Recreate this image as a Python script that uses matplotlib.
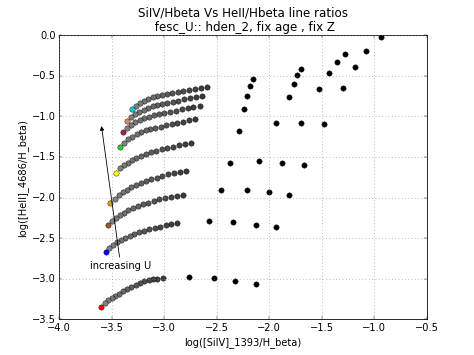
import matplotlib
matplotlib.use("Agg")
import matplotlib.pyplot as plt

plt.style.use("classic")

# Start-point colours (one per ionisation parameter U, bottom -> top)
u_colors = ["red", "blue", "sienna", "goldenrod", "yellow", "limegreen",
            "#b0203a", "#e0855f", "#10d0d0"]

# Model curves: first point coloured, rest gray
curve_x = [
    [-3.598, -3.566, -3.535, -3.502, -3.468, -3.433, -3.394, -3.356, -3.315, -3.273, -3.232, -3.191, -3.149, -3.108, -3.064, -3.016],
    [-3.559, -3.522, -3.485, -3.449, -3.410, -3.369, -3.327, -3.284, -3.238, -3.191, -3.142, -3.090, -3.038, -2.985, -2.931, -2.877],
    [-3.540, -3.501, -3.463, -3.424, -3.384, -3.341, -3.297, -3.252, -3.204, -3.154, -3.102, -3.048, -2.994, -2.938, -2.881, -2.825],
    [-3.512, -3.473, -3.434, -3.396, -3.355, -3.312, -3.268, -3.223, -3.175, -3.124, -3.073, -3.018, -2.963, -2.907, -2.851, -2.794],
    [-3.464, -3.425, -3.386, -3.348, -3.307, -3.264, -3.220, -3.175, -3.127, -3.076, -3.025, -2.970, -2.915, -2.859, -2.803, -2.746],
    [-3.418, -3.380, -3.341, -3.303, -3.263, -3.221, -3.177, -3.132, -3.084, -3.035, -2.983, -2.930, -2.876, -2.820, -2.764, -2.708],
    [-3.392, -3.353, -3.313, -3.274, -3.233, -3.189, -3.144, -3.098, -3.049, -2.998, -2.946, -2.890, -2.835, -2.778, -2.721, -2.663],
    [-3.350, -3.312, -3.274, -3.236, -3.196, -3.154, -3.110, -3.065, -3.018, -2.969, -2.918, -2.864, -2.811, -2.756, -2.700, -2.644],
    [-3.306, -3.268, -3.229, -3.191, -3.151, -3.109, -3.065, -3.020, -2.972, -2.923, -2.871, -2.818, -2.764, -2.708, -2.652, -2.596],
]
curve_y = [
    [-3.342, -3.296, -3.264, -3.234, -3.209, -3.185, -3.156, -3.131, -3.098, -3.073, -3.053, -3.032, -3.020, -3.008, -2.999, -2.992],
    [-2.665, -2.617, -2.580, -2.549, -2.521, -2.495, -2.471, -2.449, -2.426, -2.407, -2.390, -2.373, -2.357, -2.343, -2.331, -2.319],
    [-2.340, -2.287, -2.248, -2.214, -2.184, -2.156, -2.130, -2.106, -2.081, -2.061, -2.042, -2.023, -2.006, -1.991, -1.978, -1.965],
    [-2.071, -2.015, -1.973, -1.937, -1.905, -1.875, -1.848, -1.822, -1.796, -1.774, -1.754, -1.734, -1.716, -1.700, -1.686, -1.672],
    [-1.693, -1.642, -1.605, -1.572, -1.543, -1.516, -1.491, -1.467, -1.444, -1.424, -1.406, -1.388, -1.372, -1.357, -1.344, -1.332],
    [-1.373, -1.324, -1.283, -1.249, -1.218, -1.194, -1.172, -1.155, -1.140, -1.126, -1.112, -1.096, -1.079, -1.064, -1.048, -1.033],
    [-1.193, -1.146, -1.108, -1.076, -1.047, -1.024, -1.003, -0.987, -0.973, -0.960, -0.946, -0.932, -0.916, -0.901, -0.886, -0.872],
    [-1.057, -1.013, -0.976, -0.946, -0.918, -0.896, -0.876, -0.861, -0.847, -0.835, -0.822, -0.808, -0.793, -0.779, -0.765, -0.751],
    [-0.909, -0.870, -0.837, -0.810, -0.785, -0.766, -0.748, -0.735, -0.722, -0.711, -0.700, -0.688, -0.674, -0.662, -0.649, -0.637],
]

# Black model points (4 per curve)
black_x = [
    [-2.762, -2.527, -2.329, -2.129],
    [-2.574, -2.343, -2.129, -1.935],
    [-2.463, -2.215, -2.005, -1.808],
    [-2.374, -2.097, -1.878, -1.671],
    [-2.285, -1.935, -1.697, -1.480],
    [-2.241, -1.814, -1.528, -1.294],
    [-2.212, -1.764, -1.430, -1.182],
    [-2.183, -1.735, -1.354, -1.074],
    [-2.152, -1.700, -1.277, -0.934],
]
black_y = [
    [-2.974, -2.992, -3.024, -3.066],
    [-2.294, -2.303, -2.340, -2.368],
    [-1.907, -1.907, -1.935, -1.965],
    [-1.569, -1.548, -1.569, -1.598],
    [-1.181, -1.087, -1.082, -1.094],
    [-0.905, -0.757, -0.670, -0.649],
    [-0.753, -0.605, -0.464, -0.398],
    [-0.633, -0.497, -0.333, -0.200],
    [-0.547, -0.414, -0.229, -0.019],
]

fig = plt.figure(figsize=(8, 6))
ax = fig.add_subplot(111)

for cx, cy, col, bx, by in zip(curve_x, curve_y, u_colors, black_x, black_y):
    n = len(cx)
    for j in range(n - 1, 0, -1):
        g = 0.50 - 0.28 * (j - 1) / (n - 2)
        ax.plot(cx[j], cy[j], "o", color=str(round(g, 3)), mec="k", ms=6.5, mew=0.5)
    ax.plot(cx[0], cy[0], "o", color=col, mec="k", ms=6.5, mew=0.5)
    ax.plot(bx, by, "o", color="k", mec="k", ms=6.5, mew=0.5, ls="none")

ax.annotate("increasing U", xy=(-3.60, -1.10), xytext=(-3.414, -2.84),
            ha="center", va="center", fontsize=12,
            arrowprops=dict(arrowstyle="-|>", color="k", lw=1, mutation_scale=10))

ax.set_xlim(-4.0, -0.5)
ax.set_ylim(-3.5, 0.0)
ax.grid(True, color="0.55", linestyle=":", linewidth=0.8)
ax.set_xlabel("log([SiIV]_1393/H_beta)")
ax.set_ylabel("log([HeII]_4686/H_beta)")
ax.set_title("SiIV/Hbeta Vs HeII/Hbeta line ratios\n fesc_U:: hden_2, fix age , fix Z")

fig.savefig("out.png", dpi=59.25, facecolor="white")
